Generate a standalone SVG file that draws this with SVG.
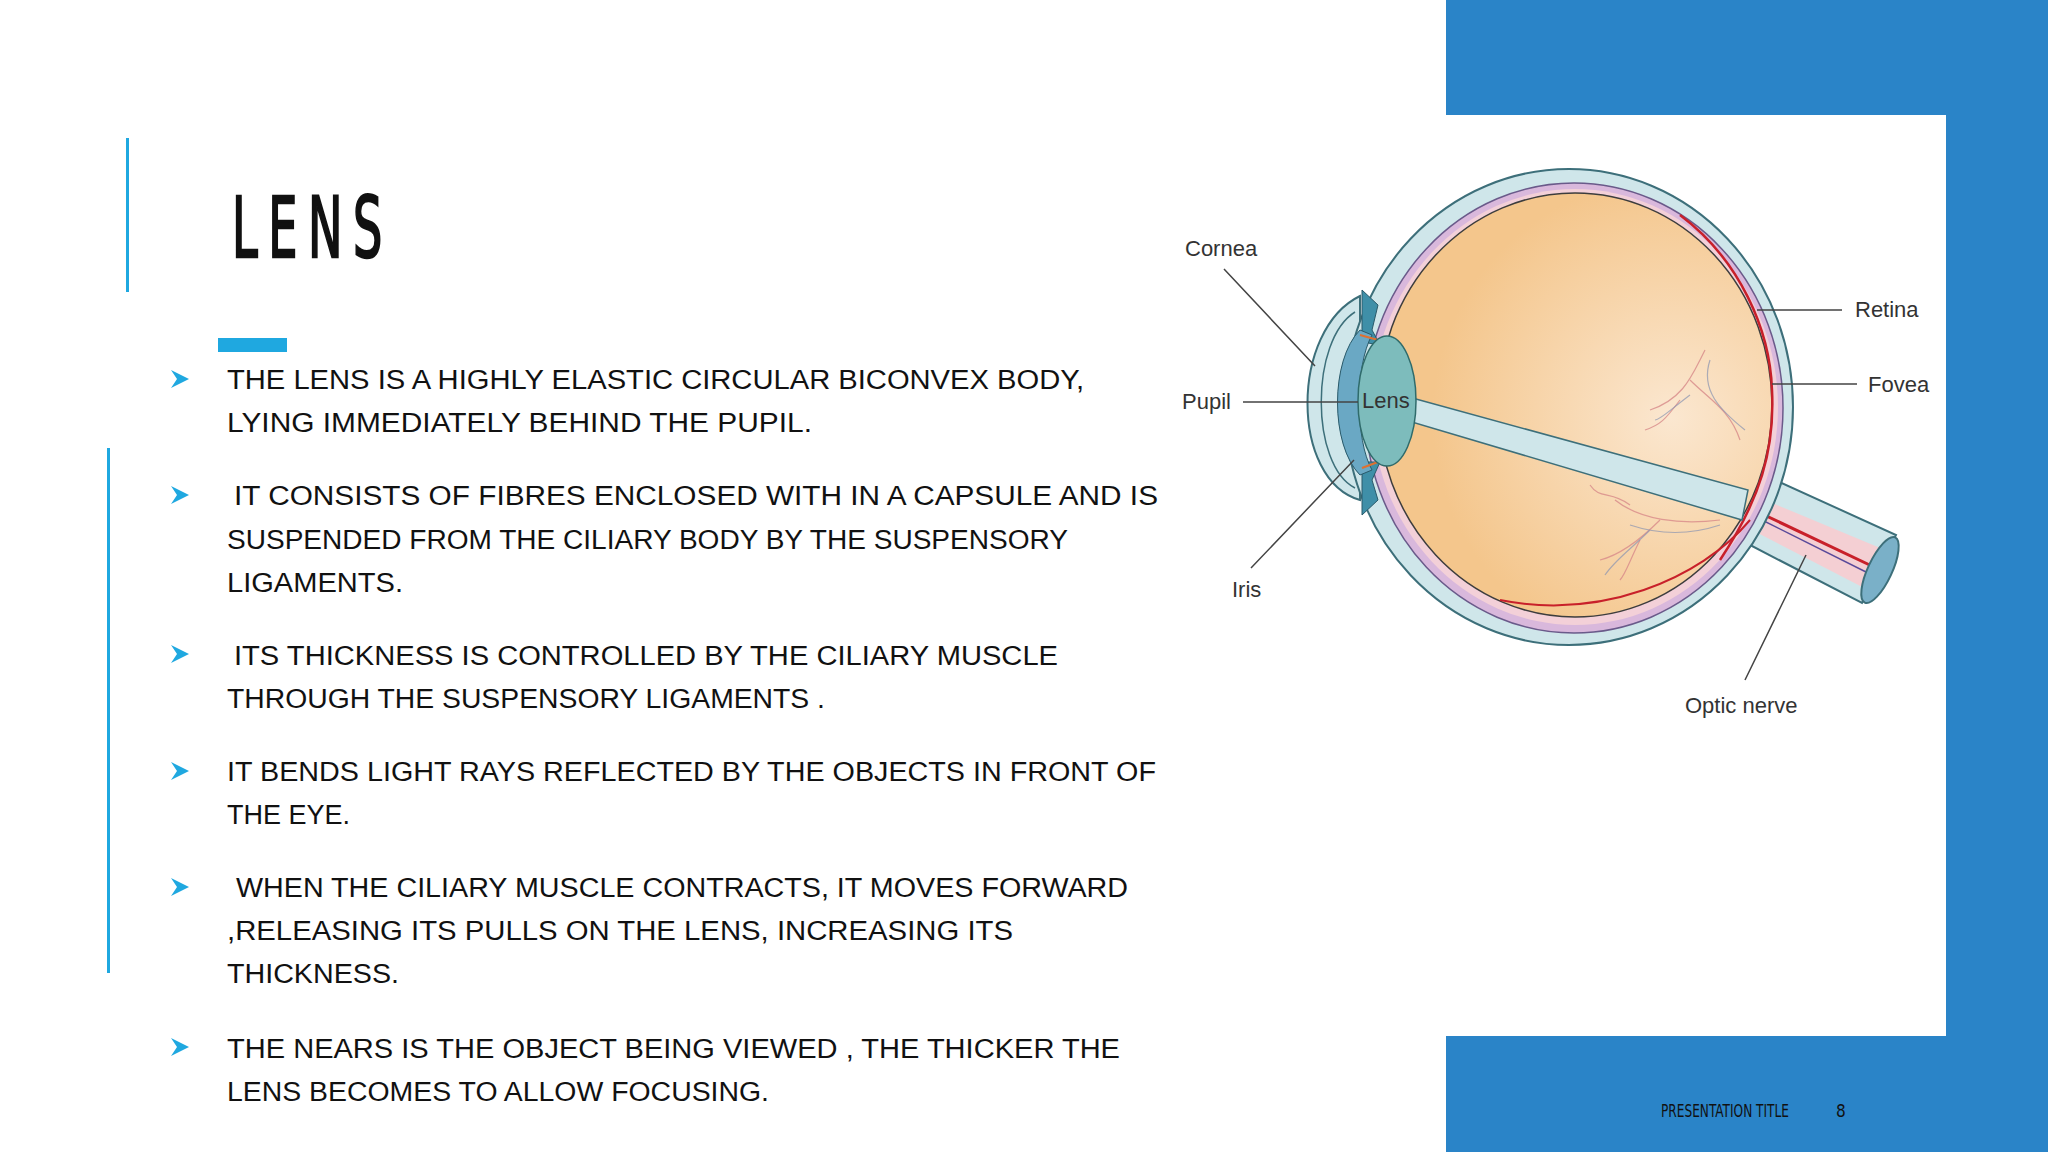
<svg xmlns="http://www.w3.org/2000/svg" width="2048" height="1152" viewBox="0 0 2048 1152">
<defs>
<style>
.b{font-family:"Liberation Sans",Arial,sans-serif;font-size:27px;fill:#111}
.lb{font-family:"Liberation Sans",Arial,sans-serif;font-size:22px;fill:#333}
.ll{stroke:#444;stroke-width:1.5;fill:none}
.ar{fill:#1fa8e0}
</style>
<radialGradient id="vg" cx="1672" cy="418" r="240" gradientUnits="userSpaceOnUse">
<stop offset="0" stop-color="#fbe7d0"/><stop offset="1" stop-color="#f4c68c"/>
</radialGradient>
<path id="arw" d="M0,-9 L18,0 L0,9 L6,0 Z"/>
</defs>
<rect width="2048" height="1152" fill="#fff"/>
<g id="frame" fill="#2a84c8">
<rect x="1446" y="0" width="602" height="115"/>
<rect x="1946" y="0" width="102" height="1152"/>
<rect x="1446" y="1036" width="602" height="116"/>
</g>
<rect x="126" y="138" width="3" height="154" fill="#1fa8e0"/>
<rect x="107" y="448" width="3" height="525" fill="#1fa8e0"/>
<rect x="218" y="338" width="69" height="14" fill="#1fa8e0"/>
<text transform="scale(0.55,1)" x="422" y="257" font-family="'DejaVu Sans','Liberation Sans',sans-serif" font-size="84" fill="#111" letter-spacing="19" stroke="#111" stroke-width="2.5">LENS</text>
<g id="bullets">
<use href="#arw" x="171" y="379" class="ar"/>
<use href="#arw" x="171" y="495" class="ar"/>
<use href="#arw" x="171" y="654" class="ar"/>
<use href="#arw" x="171" y="771" class="ar"/>
<use href="#arw" x="171" y="887" class="ar"/>
<use href="#arw" x="171" y="1047" class="ar"/>
<text class="b" x="227" y="389" textLength="857" lengthAdjust="spacingAndGlyphs">THE LENS IS A HIGHLY ELASTIC CIRCULAR BICONVEX BODY,</text>
<text class="b" x="227" y="432" textLength="585" lengthAdjust="spacingAndGlyphs">LYING IMMEDIATELY BEHIND THE PUPIL.</text>
<text class="b" x="234" y="505" textLength="924" lengthAdjust="spacingAndGlyphs">IT CONSISTS OF FIBRES ENCLOSED WITH IN A CAPSULE AND IS</text>
<text class="b" x="227" y="549" textLength="841" lengthAdjust="spacingAndGlyphs">SUSPENDED FROM THE CILIARY BODY BY THE SUSPENSORY</text>
<text class="b" x="227" y="592" textLength="176" lengthAdjust="spacingAndGlyphs">LIGAMENTS.</text>
<text class="b" x="234" y="665" textLength="824" lengthAdjust="spacingAndGlyphs">ITS THICKNESS IS CONTROLLED BY THE CILIARY MUSCLE</text>
<text class="b" x="227" y="708" textLength="598" lengthAdjust="spacingAndGlyphs">THROUGH THE SUSPENSORY LIGAMENTS .</text>
<text class="b" x="227" y="781" textLength="929" lengthAdjust="spacingAndGlyphs">IT BENDS LIGHT RAYS REFLECTED BY THE OBJECTS IN FRONT OF</text>
<text class="b" x="227" y="824" textLength="123" lengthAdjust="spacingAndGlyphs">THE EYE.</text>
<text class="b" x="236" y="897" textLength="892" lengthAdjust="spacingAndGlyphs">WHEN THE CILIARY MUSCLE CONTRACTS, IT MOVES FORWARD</text>
<text class="b" x="227" y="940" textLength="786" lengthAdjust="spacingAndGlyphs">,RELEASING ITS PULLS ON THE LENS, INCREASING ITS</text>
<text class="b" x="227" y="983" textLength="172" lengthAdjust="spacingAndGlyphs">THICKNESS.</text>
<text class="b" x="227" y="1058" textLength="893" lengthAdjust="spacingAndGlyphs">THE NEARS IS THE OBJECT BEING VIEWED , THE THICKER THE</text>
<text class="b" x="227" y="1101" textLength="542" lengthAdjust="spacingAndGlyphs">LENS BECOMES TO ALLOW FOCUSING.</text>
</g>
<g id="eye">
<path d="M1775,480 L1896,535 L1862,603 L1750,545 Z" fill="#cfe6ea" stroke="#3d6f7a" stroke-width="2"/>
<path d="M1765,500 L1885,550 L1868,590 L1752,530 Z" fill="#f4cfd3"/>
<path d="M1758,512 L1876,568" stroke="#c8202a" stroke-width="3"/>
<path d="M1758,518 L1874,576" stroke="#5a4a9a" stroke-width="1.5"/>
<ellipse cx="1880" cy="570" rx="12" ry="36" transform="rotate(25 1880 570)" fill="#7ab0c8" stroke="#3d6f7a" stroke-width="2"/>
<path d="M1360,296 C1290,330 1290,480 1360,500 Z" fill="#cfe6ea" stroke="#3d6f7a" stroke-width="2"/>
<path d="M1355,312 C1310,340 1310,465 1355,488" fill="none" stroke="#3d6f7a" stroke-width="1.5"/>
<ellipse cx="1569" cy="407" rx="224" ry="238" fill="#cfe6ea" stroke="#3d6f7a" stroke-width="2"/>
<ellipse cx="1574" cy="408" rx="209" ry="225" fill="#d9b8dc" stroke="#6a5a8a" stroke-width="1.5"/>
<ellipse cx="1575" cy="407" rx="203" ry="218" fill="#f3d0d8"/>
<ellipse cx="1575" cy="405" rx="197" ry="212" fill="url(#vg)" stroke="#3d3d3d" stroke-width="1.5"/>
<path d="M1680,215 C1740,260 1770,330 1772,390 C1775,450 1760,500 1720,560" fill="none" stroke="#c8202a" stroke-width="2.5"/>
<path d="M1500,600 C1600,620 1700,580 1750,520" fill="none" stroke="#c8202a" stroke-width="2"/>
<path d="M1405,396 L1748,490 L1742,520 L1405,420 Z" fill="#cfe6ea" stroke="#3d6f7a" stroke-width="1.5"/>
<path d="M1362,290 L1378,305 L1372,330 L1380,345 L1362,342 Z" fill="#3f8fa8" stroke="#2a5a6a" stroke-width="1"/>
<path d="M1362,462 L1380,462 L1372,480 L1378,500 L1362,515 Z" fill="#3f8fa8" stroke="#2a5a6a" stroke-width="1"/>
<path d="M1360,330 C1330,360 1330,445 1360,475 L1372,470 C1355,440 1355,365 1372,335 Z" fill="#6aa8c4" stroke="#2a5a6a" stroke-width="1"/>
<path d="M1360,335 L1378,340 M1362,468 L1378,462" stroke="#e07030" stroke-width="2"/>
<ellipse cx="1387" cy="401" rx="29" ry="65" fill="#7dbcbc" stroke="#2f6b6b" stroke-width="1.5"/>
<g fill="none" stroke="#d88a8a" stroke-width="1.2" opacity="0.8">
<path d="M1700,360 C1690,380 1680,400 1650,410 M1690,380 C1710,400 1730,410 1740,440 M1680,400 C1665,420 1660,425 1645,430 M1700,360 L1705,350"/>
<path d="M1720,520 C1680,525 1640,520 1615,500 M1660,520 C1640,540 1620,555 1600,560 M1630,505 C1610,490 1600,500 1590,485 M1640,540 C1630,560 1625,575 1620,580"/>
</g>
<g fill="none" stroke="#8a94b0" stroke-width="1.2" opacity="0.7">
<path d="M1710,360 C1700,390 1720,410 1745,430 M1690,395 C1670,410 1660,420 1655,420"/>
<path d="M1720,525 C1690,535 1660,535 1630,525 M1650,530 C1630,550 1615,560 1605,575"/>
</g>
</g>
<g id="labels">
<path class="ll" d="M1224,269 L1315,366 M1243,402 L1358,402 M1251,568 L1354,460 M1757,310 L1842,310 M1772,384 L1857,384 M1745,680 L1806,555"/>
<text class="lb" x="1185" y="256">Cornea</text>
<text class="lb" x="1182" y="409">Pupil</text>
<text class="lb" x="1232" y="597">Iris</text>
<text class="lb" x="1855" y="317">Retina</text>
<text class="lb" x="1868" y="392">Fovea</text>
<text class="lb" x="1685" y="713">Optic nerve</text>
<text class="lb" x="1362" y="408" font-size="20">Lens</text>
</g>
<g id="footer" font-family="'DejaVu Sans Condensed','Liberation Sans',sans-serif" font-size="17" fill="#111">
<text x="1661" y="1117" textLength="128" lengthAdjust="spacingAndGlyphs">PRESENTATION TITLE</text>
<text x="1836" y="1117">8</text>
</g>
</svg>
